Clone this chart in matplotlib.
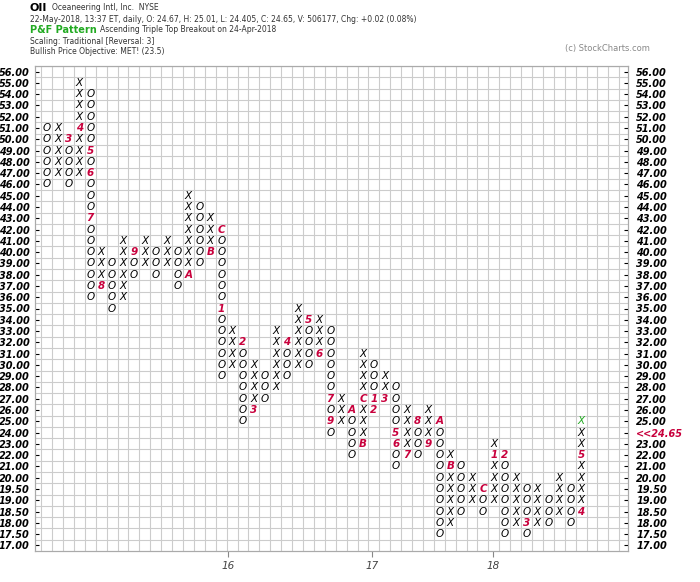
import matplotlib.pyplot as plt

# price levels of the box grid, bottom to top
levels = [17, 17.5, 18, 18.5, 19, 19.5, 20] + list(range(21, 57))

# P&F columns: (kind, low, high, {price: month label})
columns = [
    ("O", 46, 51, {}),
    ("X", 47, 51, {}),
    ("O", 46, 50, {50: "3"}),
    ("X", 47, 55, {51: "4"}),
    ("O", 36, 54, {49: "5", 47: "6", 43: "7"}),
    ("X", 37, 40, {37: "8"}),
    ("O", 35, 39, {}),
    ("X", 36, 41, {}),
    ("O", 38, 40, {40: "9"}),
    ("X", 39, 41, {}),
    ("O", 38, 40, {}),
    ("X", 39, 41, {}),
    ("O", 37, 40, {}),
    ("X", 38, 45, {38: "A"}),
    ("O", 39, 44, {}),
    ("X", 40, 43, {40: "B"}),
    ("O", 29, 42, {42: "C", 35: "1"}),
    ("X", 30, 33, {}),
    ("O", 25, 32, {32: "2"}),
    ("X", 26, 30, {26: "3"}),
    ("O", 27, 29, {}),
    ("X", 28, 33, {}),
    ("O", 29, 32, {32: "4"}),
    ("X", 30, 35, {}),
    ("O", 30, 34, {34: "5"}),
    ("X", 31, 34, {31: "6"}),
    ("O", 24, 33, {27: "7", 25: "9"}),
    ("X", 25, 27, {}),
    ("O", 22, 26, {26: "A"}),
    ("X", 23, 31, {27: "C", 23: "B"}),
    ("O", 26, 30, {27: "1", 26: "2"}),
    ("X", 27, 29, {27: "3"}),
    ("O", 21, 28, {24: "5", 23: "6"}),
    ("X", 22, 26, {22: "7"}),
    ("O", 22, 25, {25: "8"}),
    ("X", 23, 26, {23: "9"}),
    ("O", 17.5, 25, {25: "A"}),
    ("X", 18, 22, {21: "B"}),
    ("O", 18.5, 21, {}),
    ("X", 19, 20, {}),
    ("O", 18.5, 19.5, {19.5: "C"}),
    ("X", 19, 23, {22: "1"}),
    ("O", 17.5, 22, {22: "2"}),
    ("X", 18, 20, {}),
    ("O", 17.5, 19.5, {18: "3"}),
    ("X", 18, 19.5, {}),
    ("O", 18, 19, {}),
    ("X", 18.5, 20, {}),
    ("O", 18, 19.5, {}),
    ("X", 18.5, 25, {18.5: "4", 22: "5"}),
]

year_labels = ["16", "17", "18"]
year_pos = [16.6, 29.8, 40.9]
last_price = "<<24.65"

red = "#c8003c"
W, H = 700, 582
fig = plt.figure(figsize=(7, 5.82), dpi=100)
ax = fig.add_axes([35 / W, 1 - 551 / H, (628 - 35) / W, (551 - 66) / H])
ax.set_xlim(-1.07, 53.3)
ax.set_ylim(-0.5, len(levels) - 0.5)

for x in range(-1, 54):
    ax.axvline(x + 0.5, color="#cccccc", lw=0.8, zorder=0)
for y in range(len(levels)):
    ax.axhline(y + 0.5, color="#cccccc", lw=0.8, zorder=0)

row = {v: i for i, v in enumerate(levels)}
for c, (kind, lo, hi, labels) in enumerate(columns):
    for i in range(row[lo], row[hi] + 1):
        v = levels[i]
        if v in labels:
            ax.text(c, i, labels[v], color=red, fontsize=7.5, fontweight="bold",
                    fontstyle="italic", ha="center", va="center")
        else:
            col = "black"
            if c == len(columns) - 1 and i == row[hi]:
                col = "#22aa22"
            ax.text(c, i, kind, color=col, fontsize=7.5, fontstyle="italic",
                    ha="center", va="center")

ticklabels = ["%.2f" % v for v in levels]
ax.set_yticks(range(len(levels)))
ax.set_yticklabels(ticklabels, fontsize=7, fontweight="bold", fontstyle="italic")
ax.tick_params(axis="y", direction="in", length=3, left=True, right=False,
               labelleft=True, labelright=False, pad=4)
ax2 = ax.twinx()
ax2.set_ylim(ax.get_ylim())
ax2.set_yticks(range(len(levels)))
rlabels = list(ticklabels)
rlabels[row[24]] = last_price
ax2.set_yticklabels(rlabels, fontsize=7, fontweight="bold", fontstyle="italic")
ax2.tick_params(axis="y", direction="in", length=3, pad=6)
ax2.get_yticklabels()[row[24]].set_color(red)

ax.set_xticks(year_pos)
ax.set_xticklabels(year_labels, fontsize=7.5, fontstyle="italic", color="#444444")
ax.tick_params(axis="x", direction="out", length=4, color="#888888")
for s in list(ax.spines.values()) + list(ax2.spines.values()):
    s.set_color("#aaaaaa")

fig.text(30 / W, 1 - 8 / H, "OII", fontsize=8, fontweight="bold", va="center")
fig.text(52 / W, 1 - 8 / H, "Oceaneering Intl, Inc.  NYSE", fontsize=5.5, va="center", color="#333333")
fig.text(30 / W, 1 - 19 / H, "22-May-2018, 13:37 ET, daily, O: 24.67, H: 25.01, L: 24.405, C: 24.65, V: 506177, Chg: +0.02 (0.08%)",
         fontsize=5.5, va="center", color="#333333")
fig.text(30 / W, 1 - 30 / H, "P&F Pattern", fontsize=7, fontweight="bold", va="center", color="#22aa22")
fig.text(100 / W, 1 - 30 / H, "Ascending Triple Top Breakout on 24-Apr-2018", fontsize=5.5, va="center", color="#333333")
fig.text(30 / W, 1 - 41 / H, "Scaling: Traditional [Reversal: 3]", fontsize=5.5, va="center", color="#333333")
fig.text(30 / W, 1 - 52 / H, "Bullish Price Objective: MET! (23.5)", fontsize=5.5, va="center", color="#333333")
fig.text(565 / W, 1 - 48 / H, "(c) StockCharts.com", fontsize=6, va="center", color="#888888")

fig.savefig("out.png", dpi=100)
